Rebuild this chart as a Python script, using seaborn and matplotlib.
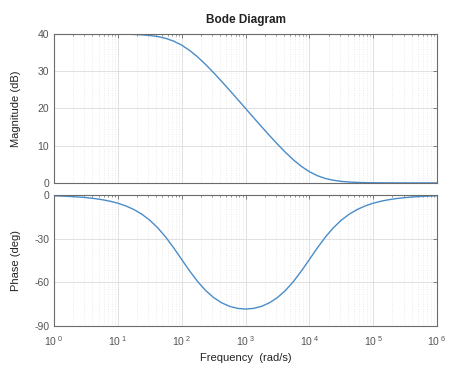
import numpy as np
import pandas as pd
import seaborn as sns
import matplotlib.pyplot as plt
from matplotlib.ticker import LogLocator, FixedLocator, NullFormatter

# values (eighth-decade steps)
freq = [1.0, 1.334, 1.778, 2.371, 3.162, 4.217, 5.623, 7.499,
        10.0, 13.34, 17.78, 23.71, 31.62, 42.17, 56.23, 74.99,
        100.0, 133.4, 177.8, 237.1, 316.2, 421.7, 562.3, 749.9,
        1000.0, 1334.0, 1778.0, 2371.0, 3162.0, 4217.0, 5623.0, 7499.0,
        10000.0, 13340.0, 17780.0, 23710.0, 31620.0, 42170.0, 56230.0, 74990.0,
        100000.0, 133400.0, 177800.0, 237100.0, 316200.0, 421700.0, 562300.0, 749900.0,
        1000000.0]
magnitude_db = [40.0, 40.0, 40.0, 40.0, 40.0, 39.99, 39.99, 39.98,
                39.96, 39.92, 39.87, 39.76, 39.59, 39.29, 38.81, 38.06,
                36.99, 35.56, 33.81, 31.79, 29.59, 27.27, 24.88, 22.45,
                20.0, 17.55, 15.12, 12.73, 10.41, 8.21, 6.19, 4.44,
                3.01, 1.94, 1.19, 0.71, 0.41, 0.24, 0.13, 0.077,
                0.04, 0.024, 0.014, 0.008, 0.004, 0.002, 0.001, 0.001,
                0.0]
phase_deg = [-0.57, -0.76, -1.02, -1.34, -1.79, -2.39, -3.2, -4.25,
             -5.65, -7.52, -9.98, -13.2, -17.37, -22.63, -29.04, -36.44,
             -44.43, -52.38, -59.62, -65.77, -70.64, -74.25, -76.7, -78.11,
             -78.58, -78.11, -76.7, -74.25, -70.64, -65.77, -59.62, -52.38,
             -44.43, -36.44, -29.04, -22.63, -17.37, -13.2, -9.98, -7.52,
             -5.65, -4.25, -3.2, -2.39, -1.79, -1.34, -1.02, -0.76,
             -0.57]

df = pd.DataFrame({'w': freq, 'mag': magnitude_db, 'phase': phase_deg})

sns.set_style('white')
plt.rcParams['font.family'] = ['Liberation Sans', 'DejaVu Sans']
plt.rcParams['mathtext.fontset'] = 'custom'
plt.rcParams['mathtext.rm'] = 'Liberation Sans'
plt.rcParams['mathtext.it'] = 'Liberation Sans'
plt.rcParams['axes.unicode_minus'] = False

text_col = '#555555'
line_col = '#4a8cc8'

fig = plt.figure(figsize=(4.74, 3.9), dpi=100)
ax1 = fig.add_axes([0.114, 0.531, 0.808, 0.382])
ax2 = fig.add_axes([0.114, 0.165, 0.808, 0.335])

sns.lineplot(data=df, x='w', y='mag', ax=ax1, color=line_col, linewidth=1.0)
sns.lineplot(data=df, x='w', y='phase', ax=ax2, color=line_col, linewidth=1.0)

for ax in (ax1, ax2):
    ax.set_xscale('log')
    ax.set_xlim(1, 1e6)
    ax.xaxis.set_major_locator(LogLocator(base=10, numticks=10))
    ax.xaxis.set_minor_locator(LogLocator(base=10, subs=np.arange(2, 10), numticks=20))
    ax.xaxis.set_minor_formatter(NullFormatter())
    ax.grid(True, which='major', color='#dcdcdc', linewidth=0.6, linestyle='-')
    ax.grid(True, which='minor', color='#d8d8d8', linewidth=0.5, linestyle=(0, (1, 2.5)))
    ax.tick_params(which='both', direction='in', top=True, right=True, colors='#6b6b6b',
                   labelcolor=text_col, labelsize=7.5)
    ax.tick_params(which='major', length=3, width=0.6)
    ax.tick_params(which='minor', length=1.5, width=0.5)
    for s in ax.spines.values():
        s.set_color('#6b6b6b')
        s.set_linewidth(0.8)
    ax.set_xlabel('')

ax1.set_ylim(0, 40)
ax1.yaxis.set_major_locator(FixedLocator([0, 10, 20, 30, 40]))
ax1.set_xticklabels([])
ax1.set_ylabel('Magnitude (dB)', fontsize=8, color='#222222')
ax1.set_title('Bode Diagram', fontsize=8.5, fontweight='bold', color='#222222', pad=8)

ax2.set_ylim(-90, 0)
ax2.yaxis.set_major_locator(FixedLocator([-90, -60, -30, 0]))
ax2.set_ylabel('Phase (deg)', fontsize=8, color='#222222')
ax2.set_xticks([10.0 ** k for k in range(7)])
ax2.set_xticklabels([r'$\mathregular{10^{\;%d}}$' % k for k in range(7)])
ax2.tick_params(axis='x', pad=6)
ax2.set_xlabel('Frequency  (rad/s)', fontsize=8, color='#222222')

for ax in (ax1, ax2):
    ax.yaxis.set_label_coords(-0.085, 0.5)

fig.savefig('out.png', dpi=100)
